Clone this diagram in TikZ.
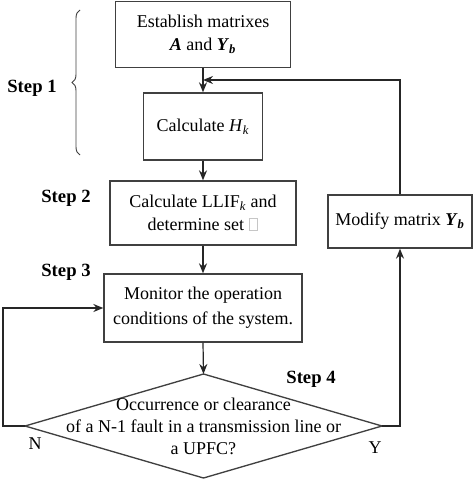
\documentclass[tikz,border=0pt]{standalone}
\usepackage{fontspec}
\setmainfont{Liberation Serif}
\usepackage{xcolor}
\usepackage{tikz}
\usetikzlibrary{positioning,arrows.meta,shapes.geometric,calc,decorations.pathreplacing}

\newcommand{\blankset}{{\color{gray!45}\fboxsep=0pt\fboxrule=0.6pt\fbox{\rule{0pt}{8.5pt}\hspace{6pt}}}}

\tikzset{
  stepbox/.style={draw=black!75, line width=1pt, align=center, inner sep=2pt,
    font=\fontsize{13.5}{17}\selectfont},
  flow/.style={draw=black!85, line width=0.9pt, -{Stealth[length=7.5pt,width=6pt]}},
  steplabel/.style={font=\fontsize{14}{16}\selectfont\bfseries},
  yn/.style={font=\fontsize{13.5}{16}\selectfont},
}

\begin{document}
\begin{tikzpicture}[x=0.75pt, y=-0.75pt]
  % canvas in pixel units, y pointing down
  \useasboundingbox (0,0) rectangle (474,481);
  % process boxes
  \node[stepbox, minimum width=131.25pt, minimum height=49.5pt] (est) at (203,34.5)
    {Establish matrixes\\ \textbf{\textit{A}} and \textbf{\textit{Y}}\textsubscript{\textbf{\textit{b}}}};
  \node[stepbox, minimum width=89.25pt, minimum height=50.25pt] (hk) at (203,126.5)
    {Calculate \textit{H}\textsubscript{\textit{k}}};
  \node[stepbox, minimum width=139.5pt, minimum height=48pt] (llif) at (203,213)
    {Calculate LLIF\textsubscript{\textit{k}} and\\ determine set \blankset};
  \node[stepbox, minimum width=148.5pt, minimum height=51pt,
    font=\fontsize{13.5}{19}\selectfont] (mon) at (203,308)
    {Monitor the operation\\ conditions of the system.};
  \node[stepbox, minimum width=108pt, minimum height=39.75pt] (mod) at (400,221.5)
    {Modify matrix \textbf{\textit{Y}}\textsubscript{\textbf{\textit{b}}}};
  % decision
  \node[diamond, draw=black!75, line width=1pt, minimum width=267.75pt,
    minimum height=78pt, inner sep=0pt, outer sep=0pt] (dec) at (203.5,426) {};
  \node[align=center, font=\fontsize{13.5}{16.5}\selectfont] (dectext) at (203.5,426)
    {Occurrence or clearance\\ of a N-1 fault in a transmission line or\\ a UPFC?};
  % connectors
  \coordinate (join) at (203,80);
  \draw[flow] (est.south) -- (hk.north);
  \draw[flow] (hk.south) -- (llif.north);
  \draw[flow] (llif.south) -- (mon.north);
  \draw[flow] (mon.south) -- (dec.north);
  \draw[flow] (dec.west) -- ++(-22,0) |- (mon.west);
  \draw[flow] (dec.east) -| (mod.south);
  \draw[flow] (mod.north) |- (join);
  % step labels
  \draw[black!75, line width=0.7pt, decorate, decoration={brace, amplitude=6pt}]
    (80,155) -- (80,10);
  \node[steplabel] (s1) at (32,88) {Step 1};
  \node[steplabel] (s2) at (66,198) {Step 2};
  \node[steplabel] (s3) at (66,272) {Step 3};
  \node[steplabel] (s4) at (311,379) {Step 4};
  \node[yn] (n) at (35,444) {N};
  \node[yn] (y) at (375,448) {Y};
\end{tikzpicture}
\end{document}
